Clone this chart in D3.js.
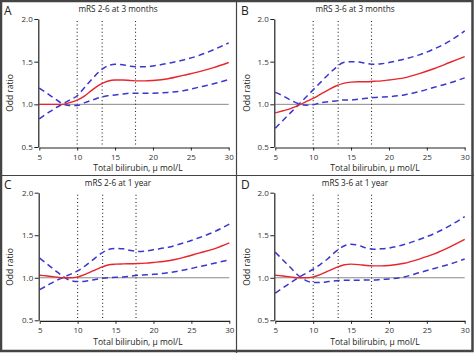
<!DOCTYPE html>
<html>
<head>
<meta charset="utf-8">
<script src="https://cdn.jsdelivr.net/npm/d3@7"></script>
<style>
  body { margin: 0; background: #fff; }
  svg { display: block; font-family: "Open Sans", "Noto Sans", sans-serif; }
</style>
</head>
<body>
<svg id="chart" width="474" height="353"></svg>
<script>
const bili = [5, 6, 7, 8, 9, 10, 11, 12, 13, 14, 15, 16, 17, 18, 19, 20, 22, 24, 26, 28, 30];

// Panel A: mRS 2-6 at 3 months
const orA  = [1.00, 1.00, 1.00, 1.00, 1.02, 1.05, 1.10, 1.17, 1.23, 1.27, 1.285, 1.285, 1.28, 1.275, 1.275, 1.28, 1.30, 1.34, 1.38, 1.43, 1.49];
const ci1A = [1.19, 1.13, 1.07, 1.01, 0.985, 0.985, 1.02, 1.05, 1.08, 1.10, 1.11, 1.12, 1.13, 1.13, 1.13, 1.13, 1.14, 1.16, 1.20, 1.24, 1.29];
const ci2A = [0.83, 0.89, 0.95, 1.00, 1.05, 1.10, 1.20, 1.30, 1.39, 1.45, 1.47, 1.465, 1.445, 1.44, 1.44, 1.45, 1.48, 1.52, 1.57, 1.64, 1.72];

// Panel B: mRS 3-6 at 3 months
const orB  = [0.90, 0.925, 0.95, 0.985, 1.03, 1.07, 1.12, 1.17, 1.215, 1.245, 1.26, 1.265, 1.265, 1.27, 1.275, 1.285, 1.31, 1.36, 1.42, 1.49, 1.56];
const ci1B = [1.14, 1.10, 1.05, 1.01, 0.99, 0.995, 1.02, 1.03, 1.04, 1.05, 1.05, 1.06, 1.07, 1.08, 1.085, 1.09, 1.11, 1.15, 1.20, 1.25, 1.31];
const ci2B = [0.72, 0.81, 0.90, 0.99, 1.08, 1.17, 1.26, 1.35, 1.43, 1.49, 1.50, 1.495, 1.48, 1.47, 1.475, 1.49, 1.53, 1.58, 1.65, 1.74, 1.86];

// Panel C: mRS 2-6 at 1 year
const orC  = [1.03, 1.02, 1.01, 1.00, 1.00, 1.01, 1.04, 1.08, 1.12, 1.15, 1.16, 1.163, 1.165, 1.167, 1.172, 1.18, 1.20, 1.24, 1.29, 1.34, 1.41];
const ci1C = [1.23, 1.16, 1.09, 1.02, 0.97, 0.955, 0.96, 0.975, 0.99, 1.00, 1.005, 1.01, 1.02, 1.03, 1.035, 1.04, 1.06, 1.09, 1.13, 1.17, 1.21];
const ci2C = [0.86, 0.91, 0.96, 1.00, 1.04, 1.08, 1.14, 1.21, 1.28, 1.33, 1.345, 1.34, 1.32, 1.31, 1.315, 1.33, 1.36, 1.41, 1.47, 1.54, 1.63];

// Panel D: mRS 3-6 at 1 year
const orD  = [1.03, 1.02, 1.01, 1.00, 1.00, 1.01, 1.04, 1.08, 1.12, 1.15, 1.16, 1.155, 1.145, 1.14, 1.14, 1.145, 1.17, 1.22, 1.28, 1.36, 1.45];
const ci1D = [1.30, 1.21, 1.12, 1.03, 0.97, 0.945, 0.945, 0.955, 0.965, 0.97, 0.97, 0.97, 0.975, 0.975, 0.98, 0.985, 1.01, 1.06, 1.11, 1.16, 1.22];
const ci2D = [0.82, 0.88, 0.94, 1.00, 1.05, 1.10, 1.16, 1.23, 1.31, 1.37, 1.395, 1.38, 1.35, 1.335, 1.34, 1.35, 1.39, 1.45, 1.52, 1.61, 1.72];

const cutoffs = [10, 13.3, 17.7];
const xTicks = [5, 10, 15, 20, 25, 30];
const yTicks = [0.5, 1.0, 1.5, 2.0];
const letters = ['A', 'B', 'C', 'D'];
const titles = ['mRS 2-6 at 3 months', 'mRS 3-6 at 3 months', 'mRS 2-6 at 1 year', 'mRS 3-6 at 1 year'];

const svg = d3.select('#chart');

// panel cells and plot areas (pixels)
const panels = [
  { ox: 0,   oy: 0,   x0: 39.3,  x1: 228.7, y0: 19,    y1: 147,   or: orA, ci1: ci1A, ci2: ci2A },
  { ox: 237, oy: 0,   x0: 275.3, x1: 464.7, y0: 19,    y1: 147,   or: orB, ci1: ci1B, ci2: ci2B },
  { ox: 0,   oy: 176, x0: 39.7,  x1: 229.3, y0: 192.7, y1: 320.3, or: orC, ci1: ci1C, ci2: ci2C },
  { ox: 237, oy: 176, x0: 275.3, x1: 464.7, y0: 192.7, y1: 320.3, or: orD, ci1: ci1D, ci2: ci2D }
];

panels.forEach((p, i) => {
  const g = svg.append('g');
  const dy = i < 2 ? 0 : -2; // bottom row sits ~2px higher in its cell

  const x = d3.scaleLinear().domain([5, 30]).range([p.x0, p.x1]);
  const y = d3.scaleLinear().domain([0.5, 2.0]).range([p.y1, p.y0]);

  // reference line at OR = 1
  g.append('line')
    .attr('x1', x(5)).attr('x2', x(30))
    .attr('y1', y(1)).attr('y2', y(1))
    .attr('stroke', '#8a8a8a').attr('stroke-width', 1);

  // dotted cut-off lines
  g.selectAll('.cut')
    .data(cutoffs)
    .enter()
    .append('line')
    .attr('x1', d => x(d)).attr('x2', d => x(d))
    .attr('y1', p.y0 + 2).attr('y2', p.y1)
    .attr('stroke', '#222')
    .attr('stroke-width', 1.1)
    .attr('stroke-dasharray', '1,2.6');

  const line = d3.line()
    .x((d, j) => x(bili[j]))
    .y(d => y(d))
    .curve(d3.curveMonotoneX);

  [p.ci1, p.ci2].forEach(ci => {
    g.append('path')
      .attr('d', line(ci))
      .attr('fill', 'none')
      .attr('stroke', '#3a36d0')
      .attr('stroke-width', 1.5)
      .attr('stroke-dasharray', '6,4');
  });

  g.append('path')
    .attr('d', line(p.or))
    .attr('fill', 'none')
    .attr('stroke', '#e8242c')
    .attr('stroke-width', 1.4);

  // axes
  const xAxis = g.append('g')
    .attr('transform', `translate(0,${p.y1 + 0.5})`)
    .call(d3.axisBottom(x).tickValues(xTicks).tickSize(3).tickPadding(3.5).tickSizeOuter(0));
  const yAxis = g.append('g')
    .attr('transform', `translate(${p.x0 - 1},0)`)
    .call(d3.axisLeft(y).tickValues(yTicks).tickFormat(d3.format('.1f')).tickSize(4).tickPadding(1.5).tickSizeOuter(0));

  [xAxis, yAxis].forEach(a => {
    a.select('.domain').attr('stroke', '#222').attr('stroke-width', 1.2);
    a.selectAll('.tick line').attr('stroke', '#222');
    a.selectAll('.tick text').attr('fill', '#333').style('font-size', '8px').style('font-family', '"Open Sans", sans-serif');
  });

  // titles and labels
  g.append('text')
    .attr('x', p.ox + 118).attr('y', p.oy + 12 + dy)
    .attr('text-anchor', 'middle')
    .attr('fill', '#222')
    .style('font-size', '8.2px')
    .text(titles[i]);

  g.append('text')
    .attr('x', p.ox + 4).attr('y', p.oy + 14.5 + dy)
    .attr('fill', '#222')
    .style('font-size', '12px')
    .text(letters[i]);

  g.append('text')
    .attr('transform', `translate(${p.ox + 13},${p.oy + 93 + dy}) rotate(-90)`)
    .attr('text-anchor', 'middle')
    .attr('fill', '#222')
    .style('font-size', '8.5px')
    .text('Odd ratio');

  g.append('text')
    .attr('x', p.ox + 138).attr('y', p.oy + 171 + dy)
    .attr('text-anchor', 'middle')
    .attr('fill', '#222')
    .style('font-size', '8.5px')
    .text('Total bilirubin, μ mol/L');
});

// frame and dividers
svg.append('line').attr('x1', 236.5).attr('x2', 236.5).attr('y1', 0).attr('y2', 353)
  .attr('stroke', '#444').attr('stroke-width', 1.2);
svg.append('line').attr('x1', 0).attr('x2', 474).attr('y1', 175.5).attr('y2', 175.5)
  .attr('stroke', '#444').attr('stroke-width', 1.2);
svg.append('rect').attr('x', 1).attr('y', 1).attr('width', 471.5).attr('height', 350)
  .attr('fill', 'none').attr('stroke', '#444').attr('stroke-width', 2.5);
</script>
</body>
</html>
